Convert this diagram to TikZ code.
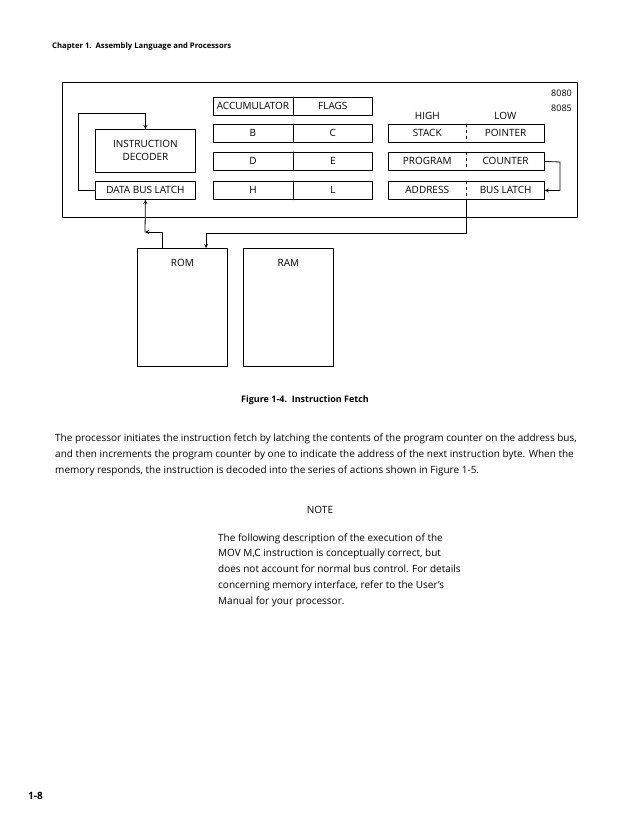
\documentclass[tikz,border=0pt]{standalone}
\usepackage{fontspec}
\setmainfont{Open Sans}
\usetikzlibrary{positioning}
\tikzset{
  reg/.style={draw, line width=0.8pt, inner sep=0pt, anchor=north west, minimum height=18pt},
  half/.style={inner sep=0pt, anchor=west, minimum height=18pt},
  tag/.style={inner sep=0pt},
  bus/.style={->, line width=0.8pt},
}
\begin{document}
\begin{tikzpicture}[x=1pt, y=-1pt, font=\fontsize{10}{11}\selectfont, line join=round, line cap=round, >=stealth]
	\useasboundingbox (0,0) rectangle (638,840);
	\node[anchor=base west, tag, font=\fontsize{7.7}{8}\selectfont\bfseries] (head) at (52,49) {Chapter 1.\ \ Assembly Language and Processors};
	% processor
	\node[reg, minimum width=515pt, minimum height=135pt] (cpu) at (62,82) {};
	\node[anchor=north east, align=right, tag, font=\fontsize{9}{15}\selectfont] (type) at (572,90) {8080\\8085};
	\foreach \n/\y/\a/\b in {af/97/ACCUMULATOR/FLAGS, bc/124/B/C, de/152/D/E, hl/181/H/L}{
		\node[reg, minimum width=159pt] (\n) at (213,\y) {};
		\draw[line width=0.8pt] (\n.north) -- (\n.south);
		\node[half, minimum width=79.5pt] at (\n.west) {\a};
		\node[half, minimum width=79.5pt] at (\n.center) {\b};
	}
	\foreach \n/\y/\a/\b in {sp/124/STACK/POINTER, pc/152/PROGRAM/COUNTER, ab/181/ADDRESS/BUS LATCH}{
		\node[reg, minimum width=156pt] (\n) at (388,\y) {};
		\draw[dashed] (\n.north) -- (\n.south);
		\node[half, minimum width=78pt] at (\n.west) {\a};
		\node[half, minimum width=78pt] at (\n.center) {\b};
	}
	\node[tag, above=4pt of sp.north, xshift=-39pt] (high) {HIGH};
	\node[tag, above=4pt of sp.north, xshift=39pt] (low) {LOW};
	\node[reg, minimum width=100pt, minimum height=43pt, align=center, font=\fontsize{10}{13}\selectfont] (idec) at (95,129) {INSTRUCTION\\DECODER};
	\node[reg, minimum width=100pt] (dbl) at (95,181) {DATA BUS LATCH};
	% memory
	\node[reg, minimum width=90pt, minimum height=118pt] (rom) at (137,248) {};
	\node[reg, minimum width=90pt, minimum height=118pt] (ram) at (243,248) {};
	\node[tag, below=11pt of rom.north] (romt) {ROM};
	\node[tag, below=11pt of ram.north] (ramt) {RAM};
	% buses
	\coordinate (fb) at (78,113);
	\draw[bus] (dbl.west) -| (fb) -- (fb -| idec.north) -- (idec.north);
	\coordinate (dbk) at (145,232);
	\draw[bus] ([xshift=25pt]rom.north west) |- (dbk);
	\draw[bus] (dbk) -- (dbl.south);
	\coordinate (abk) at (206,233);
	\draw[bus] (ab.south) |- (abk) -- (abk |- rom.north);
	\coordinate (pcr) at (560,162);
	\draw[bus] (pc.east) -- (pcr) |- (ab.east);
	\node[tag, font=\fontsize{9}{10}\selectfont\bfseries] (cap) at (305,400) {Figure 1-4.\ \ Instruction Fetch};
	% text
	\foreach \t [count=\i from 0] in {{The processor initiates the instruction fetch by latching the contents of the program counter on the address bus,}, {and then increments the program counter by one to indicate the address of the next instruction byte. When the}, {memory responds, the instruction is decoded into the series of actions shown in Figure 1-5.}}
		\node[tag, anchor=base west, font=\fontsize{10}{12}\selectfont] at (55,441+16*\i) {\t};
	\node[tag, font=\fontsize{10}{12}\selectfont] (note) at (320,510) {NOTE};
	\foreach \t [count=\i from 0] in {{The following description of the execution of the}, {MOV M,C instruction is conceptually correct, but}, {does not account for normal bus control. For details}, {concerning memory interface, refer to the User’s}, {Manual for your processor.}}
		\node[tag, anchor=base west, font=\fontsize{10}{12}\selectfont] at (218,541+15.8*\i) {\t};
	\node[tag, anchor=base west, font=\fontsize{10}{12}\selectfont\bfseries] (page) at (28,799) {1-8};
\end{tikzpicture}
\end{document}
